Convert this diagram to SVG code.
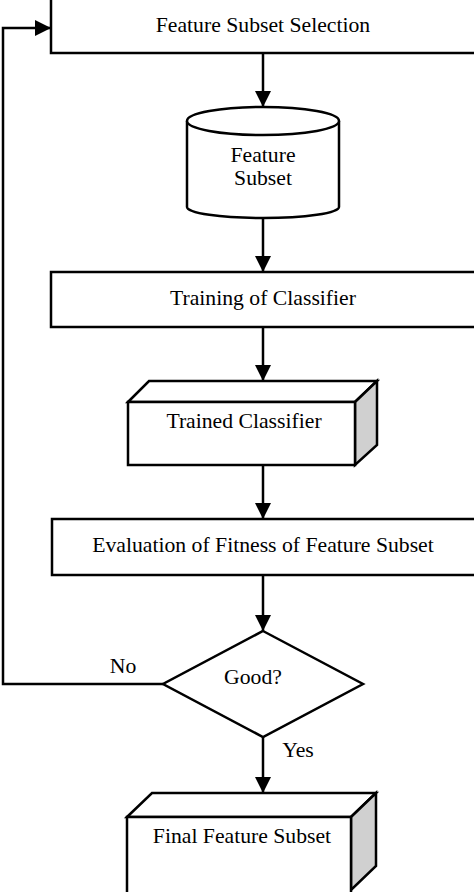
<svg xmlns="http://www.w3.org/2000/svg" width="474" height="892" viewBox="0 0 474 892">
<style>
.s{fill:#fff;stroke:#000;stroke-width:2.5}
.side{fill:#d0d0d0;stroke:#000;stroke-width:2.5;stroke-linejoin:miter}
.t{font-family:"Liberation Serif","Times New Roman",serif;font-size:21.7px;fill:#000;text-anchor:middle}
.c{fill:none;stroke:#000;stroke-width:2.5}
</style>
<defs>
<marker id="ah" markerWidth="16" markerHeight="16" refX="16" refY="8" orient="auto" markerUnits="userSpaceOnUse">
<path d="M0,0 L16,8 L0,16 Z" fill="#000"/>
</marker>
</defs>
<rect width="474" height="892" fill="#fff"/>
<g id="connectors">
<line class="c" x1="263" y1="53" x2="263" y2="107" marker-end="url(#ah)"/>
<line class="c" x1="263" y1="218" x2="263" y2="272" marker-end="url(#ah)"/>
<line class="c" x1="263" y1="327" x2="263" y2="381" marker-end="url(#ah)"/>
<line class="c" x1="263" y1="465" x2="263" y2="519" marker-end="url(#ah)"/>
<line class="c" x1="263" y1="575" x2="263" y2="631" marker-end="url(#ah)"/>
<line class="c" x1="263" y1="737" x2="263" y2="793" marker-end="url(#ah)"/>
<polyline class="c" points="163,684 3,684 3,28 51,28" marker-end="url(#ah)"/>
<text class="t" x="123" y="673">No</text>
<text class="t" x="298" y="757">Yes</text>
</g>
<g id="selection">
<rect class="s" x="51" y="-5" width="430" height="58"/>
<text class="t" x="263" y="32">Feature Subset Selection</text>
</g>
<g id="feature-subset">
<path class="s" d="M187,121 L187,207 A76,11 0 0 0 339,207 L339,121"/>
<ellipse class="s" cx="263" cy="121" rx="76" ry="14"/>
<text class="t" x="263" y="162">Feature</text>
<text class="t" x="263" y="185">Subset</text>
</g>
<g id="training">
<rect class="s" x="51" y="272" width="430" height="55"/>
<text class="t" x="263" y="305">Training of Classifier</text>
</g>
<g id="trained">
<path class="s" d="M128,402 L149,381 L377,381 L355,402 Z"/>
<path class="side" d="M355,402 L377,381 L377,445 L355,465 Z"/>
<rect class="s" x="128" y="402" width="227" height="63"/>
<text class="t" x="244" y="428">Trained Classifier</text>
</g>
<g id="evaluation">
<rect class="s" x="52" y="519" width="430" height="56"/>
<text class="t" x="263" y="552">Evaluation of Fitness of Feature Subset</text>
</g>
<g id="decision">
<polygon class="s" points="263,631 363,684 263,737 163,684"/>
<text class="t" x="253" y="684">Good?</text>
</g>
<g id="final">
<path class="s" d="M127,817 L152,793 L376,793 L351,817 Z"/>
<path class="side" d="M351,817 L376,793 L376,866 L351,890 Z"/>
<rect class="s" x="127" y="817" width="224" height="85"/>
<text class="t" x="242" y="843">Final Feature Subset</text>
</g>
</svg>
